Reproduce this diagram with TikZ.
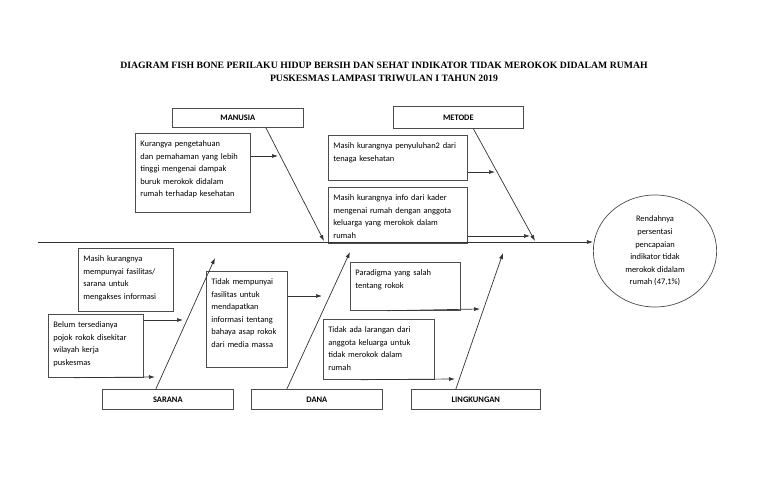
\documentclass[tikz,border=0pt]{standalone}
\usepackage{fontspec}
\setmainfont{Carlito}
\newfontfamily\titlefont{Liberation Serif}
\usetikzlibrary{arrows.meta,calc,shapes.geometric}
\tikzset{
  causebox/.style={
    rectangle,
    draw=black!70,
    line width=0.6pt,
    fill=white,
    anchor=north west,
    align=left,
    inner xsep=1.5mm,
    inner ysep=1.5mm,
    text height=2.4mm,
    font=\fontsize{7.2}{10.8}\selectfont
  },
  labelbox/.style={
    rectangle,
    draw=black!70,
    line width=0.6pt,
    anchor=north west,
    align=center,
    inner sep=0pt,
    font=\bfseries\fontsize{7.2}{9}\selectfont
  },
  effect/.style={
    ellipse,
    draw=black!70,
    line width=0.6pt,
    align=center,
    inner sep=0pt,
    minimum width=37mm,
    minimum height=33.6mm,
    font=\fontsize{7.2}{10.8}\selectfont
  },
  arrow/.style={
    -{Latex[length=1.8mm,width=1.2mm]},
    line width=0.6pt,
    draw=black!80
  },
  bone/.style={
    arrow
  }
}

\begin{document}
\begin{tikzpicture}[x=0.3mm,y=-0.3mm]
  \useasboundingbox[fill=white] (0,0) rectangle (768,501);

  % title
  \node[align=center, font=\titlefont\bfseries\fontsize{8.3}{11}\selectfont] (title) at (384,72)
    {DIAGRAM FISH BONE PERILAKU HIDUP BERSIH DAN SEHAT INDIKATOR TIDAK MEROKOK DIDALAM RUMAH\\
     PUSKESMAS LAMPASI TRIWULAN I TAHUN 2019};

  % category boxes
  \node[labelbox, minimum width=39.3mm, minimum height=5.7mm] (manusia) at (172,108) {MANUSIA};
  \node[labelbox, minimum width=39mm, minimum height=6.6mm] (metode) at (393,106) {METODE};
  \node[labelbox, minimum width=39.3mm, minimum height=6mm] (sarana) at (102,389) {SARANA};
  \node[labelbox, minimum width=39.3mm, minimum height=6mm] (dana) at (251,389) {DANA};
  \node[labelbox, minimum width=38.7mm, minimum height=6mm] (lingkungan) at (411,389) {LINGKUNGAN};

  % causes
  \node[causebox, text width=31.5mm, text depth=18.3mm] (kurang) at (135,133)
    {Kurangya pengetahuan\\dan pemahaman yang lebih\\tinggi mengenai dampak\\buruk merokok didalam\\rumah terhadap kesehatan};
  \node[causebox, text width=38.7mm, text depth=8.1mm] (penyuluhan) at (328,135)
    {Masih kurangnya penyuluhan2 dari\\tenaga kesehatan};
  \node[causebox, text width=38.7mm, text depth=11.4mm] (info) at (328,187)
    {Masih kurangnya info dari kader\\mengenai rumah dengan anggota\\keluarga yang merokok dalam\\rumah};
  \node[causebox, text width=25.5mm, text depth=13.5mm] (fasilitas) at (78,248)
    {Masih kurangnya\\mempunyai fasilitas/\\sarana untuk\\mengakses informasi};
  \node[causebox, text width=25.5mm, text depth=13.5mm] (belum) at (48,314)
    {Belum tersedianya\\pojok rokok disekitar\\wilayah kerja\\puskesmas};
  \node[causebox, text width=21.3mm, text depth=23.4mm] (tidakpunya) at (206,271)
    {Tidak mempunyai\\fasilitas untuk\\mendapatkan\\informasi tentang\\bahaya asap rokok\\dari media massa};
  \node[causebox, text width=30mm, text depth=9mm] (paradigma) at (350,262)
    {Paradigma yang salah\\tentang rokok};
  \node[causebox, text width=30.3mm, text depth=12.6mm] (larangan) at (323,319)
    {Tidak ada larangan dari\\anggota keluarga untuk\\tidak merokok dalam\\rumah};

  % effect
  \node[effect] (goal) at (655,251)
    {Rendahnya\\persentasi\\pencapaian\\indikator tidak\\merokok didalam\\rumah (47,1\%)};

  % spine and bones
  \coordinate (tail) at (38,242);
  \coordinate (headM) at (324,241);
  \coordinate (headT) at (535,241);
  \coordinate (headS) at (215,258);
  \coordinate (headD) at (350,252);
  \coordinate (headL) at (503,253);
  \draw[arrow] (tail) -- (tail -| goal.west);
  \draw[bone] ($(manusia.south)+(28,0)$) -- (headM);
  \draw[bone] ($(metode.south)+(15,0)$) -- (headT);
  \draw[bone] ($(sarana.north)+(-12,0)$) -- (headS);
  \draw[bone] ($(dana.north)+(-30,0)$) -- (headD);
  \draw[bone] ($(lingkungan.north)+(-20,0)$) -- (headL);

  % cause arrows
  \coordinate (c1) at (278,156);
  \coordinate (c2) at (495,172);
  \coordinate (c3) at (530,236);
  \coordinate (c4) at (183,320);
  \coordinate (c5) at (155,377);
  \coordinate (c6) at (322,296);
  \coordinate (c7) at (480,309);
  \coordinate (c8) at (455,379);
  \draw[arrow] ($(kurang.north east)+(0,23)$) -- (c1);
  \draw[arrow] ($(penyuluhan.north east)+(0,37)$) -- (c2);
  \draw[arrow] ($(info.north east)+(0,49)$) -- (c3);
  \draw[arrow] ($(belum.north east)+(0,6)$) -- (c4);
  \draw[arrow] ($(belum.south)+(-22,0)$) -- (c5);
  \draw[arrow] ($(tidakpunya.north east)+(0,25)$) -- (c6);
  \draw[arrow] ($(paradigma.south)+(-18,0)$) -- (c7);
  \draw[arrow] ($(larangan.south)+(-18,0)$) -- (c8);
\end{tikzpicture}
\end{document}
